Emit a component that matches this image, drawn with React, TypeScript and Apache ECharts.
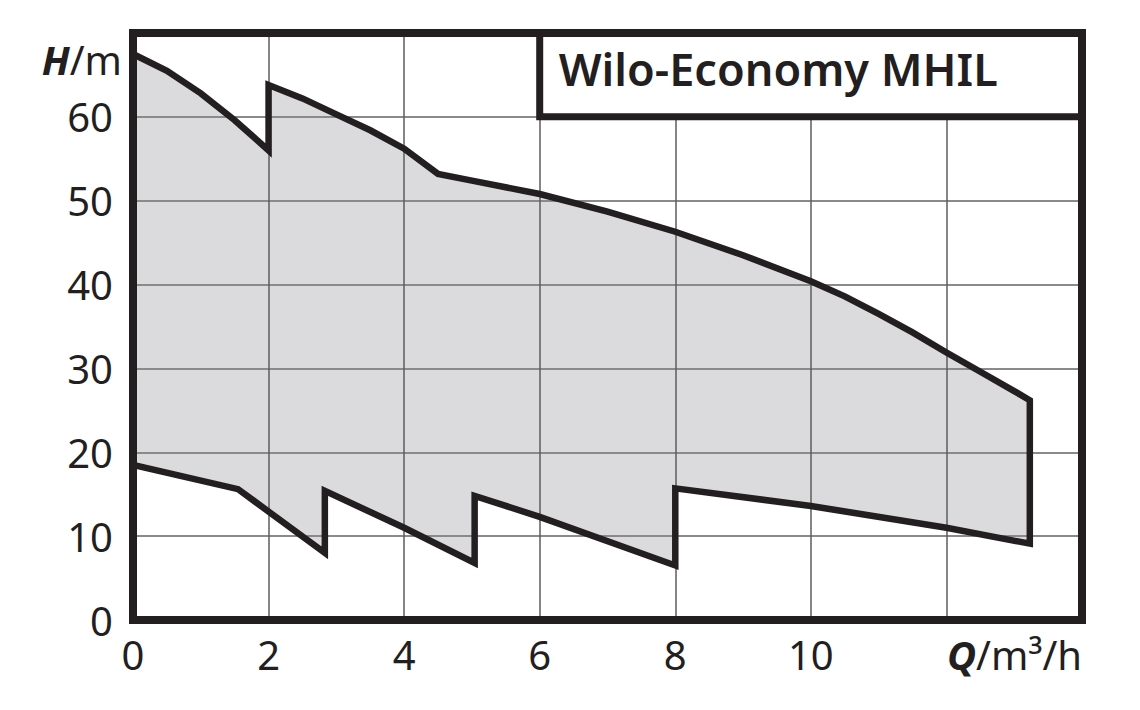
import React, { useEffect, useRef } from 'react';
import * as echarts from 'echarts';

// Upper boundary of the operating range (Q in m³/h, H in m)
const upperQ = [0, 0.5, 1, 1.5, 2, 2, 2.5, 3, 3.5, 4, 4.5, 5, 6, 7, 8, 9, 10, 10.5, 11, 11.5, 12, 12.5, 13, 13.23];
const upperH = [67.5, 65.5, 62.8, 59.6, 56.0, 63.8, 62.2, 60.3, 58.4, 56.2, 53.2, 52.4, 50.8, 48.7, 46.3, 43.5, 40.4, 38.6, 36.5, 34.3, 31.9, 29.6, 27.3, 26.2];
// Lower boundary of the operating range
const lowerQ = [0, 1.55, 2.83, 2.83, 4, 5.04, 5.04, 6, 8, 8, 10, 12, 13.23];
const lowerH = [18.5, 15.6, 8.0, 15.4, 11.0, 6.8, 14.8, 12.3, 6.5, 15.7, 13.6, 11.0, 9.1];

const xMin = 0;
const xMax = 14;
const xStep = 2;
const yMin = 0;
const yMax = 70;
const yStep = 10;

const titleText = 'Wilo-Economy MHIL';
const titleBoxQ = [6, 14];
const titleBoxH = [60, 70];

const INK = '#231f20';
const FONT = '"Noto Sans", "DejaVu Sans", sans-serif';

export default function App() {
  const ref = useRef<HTMLDivElement>(null);

  useEffect(() => {
    if (!ref.current) return;
    const chart = echarts.init(ref.current, undefined, { renderer: 'svg' });

    const outline: number[][] = [
      ...upperQ.map((q, i) => [q, upperH[i]]),
      ...lowerQ.map((q, i) => [q, lowerH[i]]).reverse(),
    ];

    const option: any = {
      animation: false,
      backgroundColor: '#ffffff',
      grid: { left: 133, right: 58, top: 33, bottom: 90, containLabel: false },
      xAxis: {
        type: 'value',
        min: xMin,
        max: xMax,
        interval: xStep,
        z: 2,
        axisLine: { show: false },
        axisTick: { show: false },
        splitLine: { show: true, lineStyle: { color: '#5c5c5c', width: 1.5 } },
        axisLabel: {
          margin: 14,
          fontSize: 40,
          fontFamily: FONT,
          color: INK,
          alignMaxLabel: 'right',
          formatter: (v: number) => (v === 12 ? '' : v === 14 ? '{q|Q}/m³/h' : String(v)),
          rich: {
            q: { fontSize: 40, fontFamily: FONT, color: INK, fontStyle: 'italic', fontWeight: 'bold' },
          },
        },
      },
      yAxis: {
        type: 'value',
        min: yMin,
        max: yMax,
        interval: yStep,
        z: 2,
        axisLine: { show: false },
        axisTick: { show: false },
        splitLine: { show: true, lineStyle: { color: '#8a8a8a', width: 2 } },
        axisLabel: {
          margin: 20,
          fontSize: 40,
          fontFamily: FONT,
          color: INK,
          formatter: (v: number) => (v === 70 ? '' : String(v)),
        },
        name: '{h|H}/m',
        nameLocation: 'end',
        nameGap: -26,
        nameTextStyle: {
          align: 'right',
          verticalAlign: 'middle',
          padding: [0, 11, 0, 0],
          fontSize: 40,
          fontFamily: FONT,
          color: INK,
          rich: {
            h: { fontSize: 40, fontFamily: FONT, color: INK, fontStyle: 'italic', fontWeight: 'bold' },
          },
        },
      },
      series: [
        {
          type: 'custom',
          coordinateSystem: 'cartesian2d',
          z: 1,
          silent: true,
          data: [0],
          renderItem: (_p: any, api: any) => ({
            type: 'polygon',
            shape: { points: outline.map((p) => api.coord(p)) },
            style: { fill: '#dbdbde' },
          }),
        },
        {
          type: 'custom',
          coordinateSystem: 'cartesian2d',
          z: 3,
          silent: true,
          data: [0],
          renderItem: (_p: any, api: any) => ({
            type: 'polygon',
            shape: { points: outline.map((p) => api.coord(p)) },
            style: { fill: 'none', stroke: INK, lineWidth: 6.5, lineJoin: 'miter' },
          }),
        },
        {
          type: 'custom',
          coordinateSystem: 'cartesian2d',
          z: 4,
          silent: true,
          data: [0],
          renderItem: (_p: any, api: any) => {
            const a = api.coord([titleBoxQ[0], titleBoxH[1]]);
            const b = api.coord([titleBoxQ[1], titleBoxH[0]]);
            return {
              type: 'group',
              children: [
                {
                  type: 'rect',
                  shape: { x: a[0], y: a[1], width: b[0] - a[0], height: b[1] - a[1] },
                  style: { fill: '#ffffff', stroke: INK, lineWidth: 7 },
                },
                {
                  type: 'text',
                  x: a[0] + 19,
                  y: (a[1] + b[1]) / 2 - 6,
                  style: {
                    text: titleText,
                    fill: INK,
                    fontSize: 45,
                    fontWeight: 600,
                    fontFamily: FONT,
                    verticalAlign: 'middle',
                    align: 'left',
                  },
                },
              ],
            };
          },
        },
        {
          type: 'custom',
          coordinateSystem: 'cartesian2d',
          z: 5,
          silent: true,
          data: [0],
          renderItem: (_p: any, api: any) => {
            const a = api.coord([xMin, yMax]);
            const b = api.coord([xMax, yMin]);
            return {
              type: 'rect',
              shape: { x: a[0], y: a[1], width: b[0] - a[0], height: b[1] - a[1] },
              style: { fill: 'none', stroke: INK, lineWidth: 8 },
            };
          },
        },
      ],
    };

    chart.setOption(option);
    return () => chart.dispose();
  }, []);

  return (
    <div
      ref={ref}
      style={{ position: 'fixed', left: 0, top: 0, width: 1140, height: 710, background: '#fff' }}
    />
  );
}
